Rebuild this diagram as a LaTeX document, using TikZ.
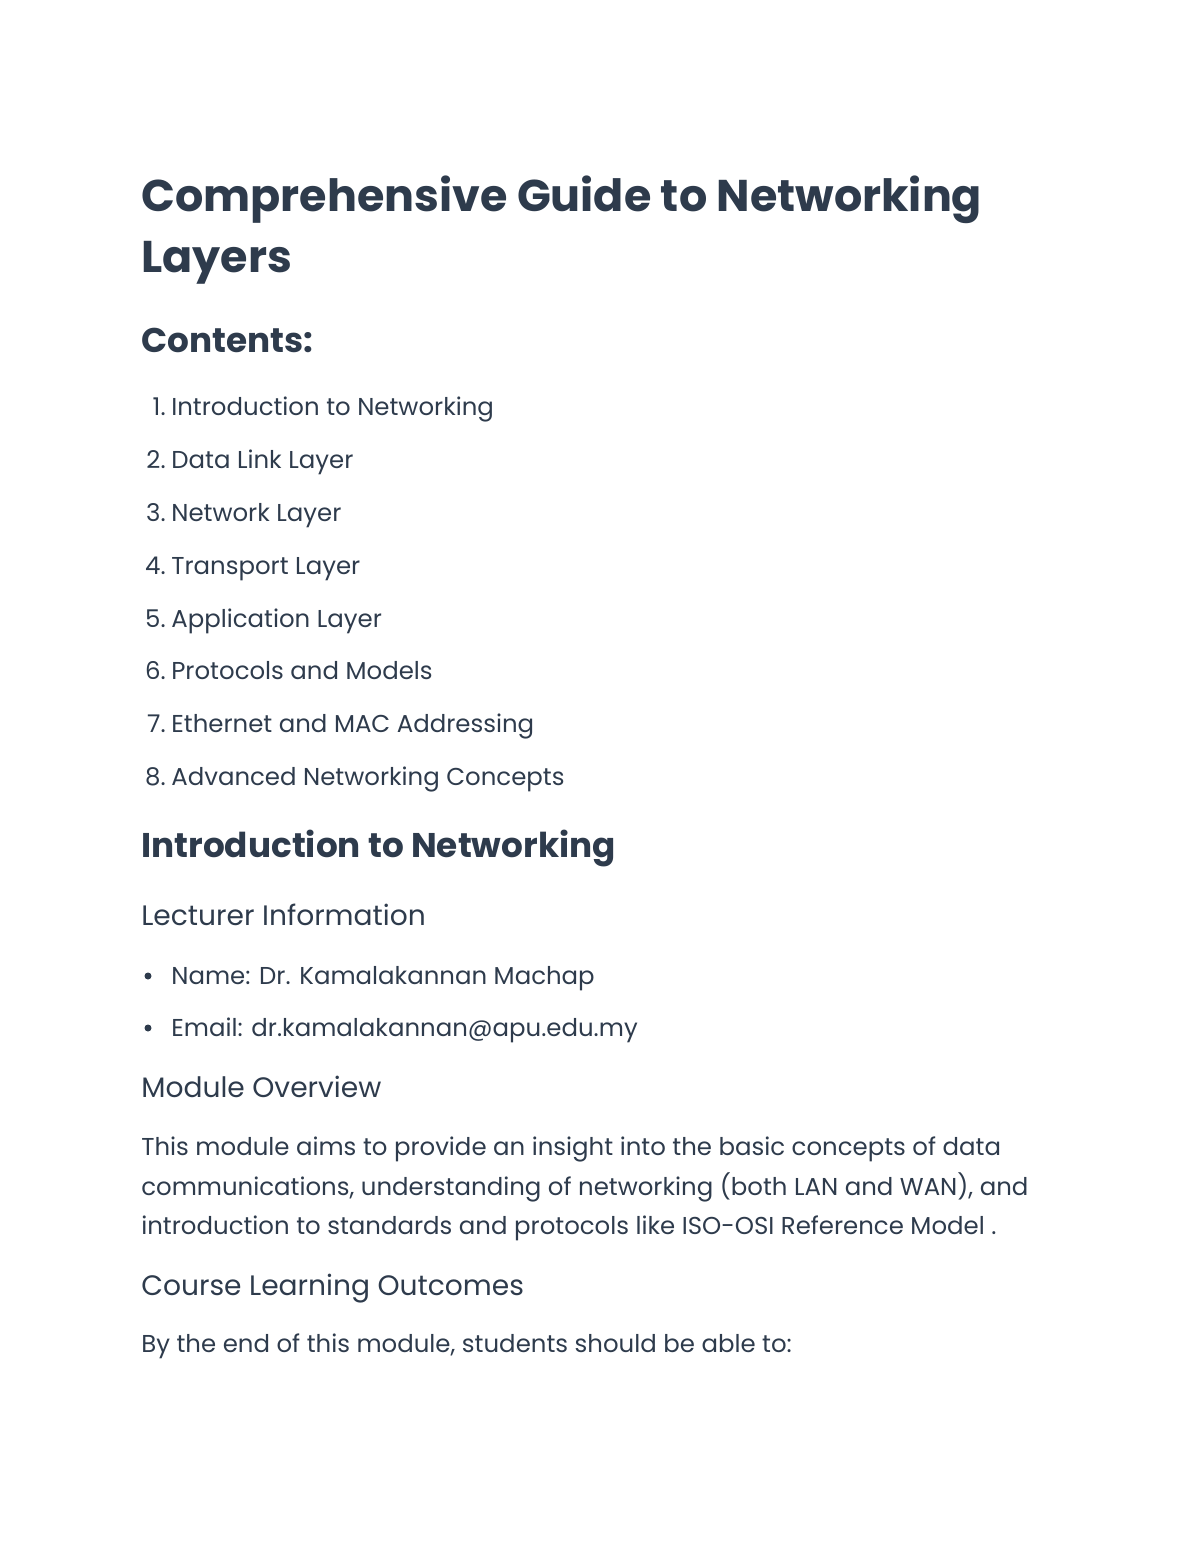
\documentclass[tikz,border=0pt]{standalone}
\usepackage{fontspec}
\setmainfont{Poppins}
\definecolor{inkslate}{HTML}{2E3B4C}

\tikzset{
  every node/.style={anchor=base west, inner sep=0pt, text=inkslate},
  titletext/.style={font=\fontsize{25.3}{30}\selectfont\bfseries},
  headtext/.style={font=\fontsize{19.5}{23}\selectfont\bfseries},
  subtext/.style={font=\fontsize{16}{19}\selectfont},
  bodytext/.style={font=\fontsize{13.9}{16}\selectfont},
}

\begin{document}
\begin{tikzpicture}[x=0.02cm, y=-0.02cm]
	\useasboundingbox (0,0) rectangle (1200,1553);
		% title and contents
		\node[titletext] (title1) at (141, 211) {Comprehensive Guide to Networking};
		\node[titletext] (title2) at (141, 272) {Layers};
		\node[headtext] (contents) at (141, 352) {Contents:};

		\foreach \num/\item/\yy in {1/Introduction to Networking/415, 2/Data Link Layer/468,
			3/Network Layer/521, 4/Transport Layer/574, 5/Application Layer/627,
			6/Protocols and Models/679, 7/Ethernet and MAC Addressing/732,
			8/Advanced Networking Concepts/785}{
			\node[bodytext, anchor=base east] (num\num) at (166, \yy) {\num.};
			\node[bodytext] (item\num) at (171, \yy) {\item};
		}

		% introduction
		\node[headtext] (intro) at (141, 857) {Introduction to Networking};
		\node[subtext] (lecturer) at (141, 925) {Lecturer Information};
		\fill[inkslate] (148, 976) circle (3.5);
		\node[bodytext] (name) at (171, 984) {Name: Dr. Kamalakannan Machap};
		\fill[inkslate] (148, 1028) circle (3.5);
		\node[bodytext] (email) at (171, 1036) {Email: dr.kamalakannan@apu.edu.my};

		\node[subtext] (overview) at (141, 1097) {Module Overview};
		\node[bodytext] (para1) at (141, 1155) {This module aims to provide an insight into the basic concepts of data};
		\node[bodytext] (para2) at (141, 1195) {communications, understanding of networking (both LAN and WAN), and};
		\node[bodytext] (para3) at (141, 1234) {introduction to standards and protocols like ISO-OSI Reference Model .};

		\node[subtext] (outcomes) at (141, 1295) {Course Learning Outcomes};
		\node[bodytext] (byend) at (141, 1352) {By the end of this module, students should be able to:};
	\end{tikzpicture}
\end{document}
